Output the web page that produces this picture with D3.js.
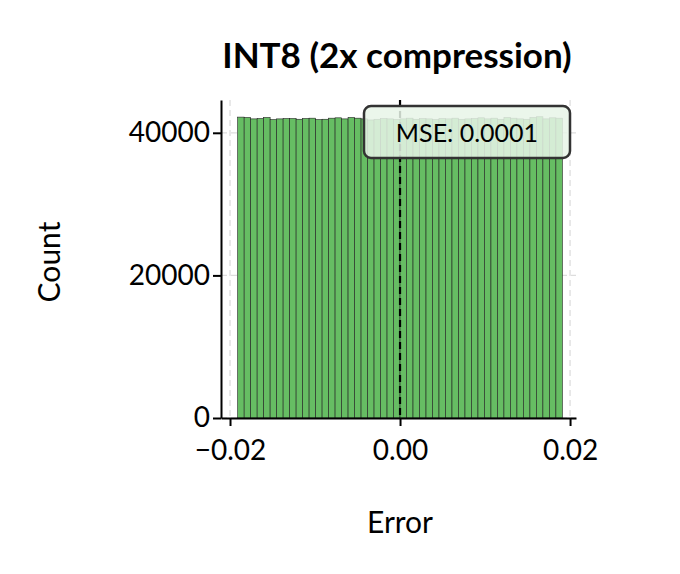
<!DOCTYPE html>
<html><head><meta charset="utf-8">
<script src="https://cdn.jsdelivr.net/npm/d3@7"></script>
<style>body{margin:0;background:#fff}text{font-family:Lato,"Noto Sans",sans-serif}</style>
</head><body><div id="chart"></div>
<script>
// histogram of quantization error, 50 bins
var binLo = -0.0191, binHi = 0.0191;
var counts = [42200,42150,41950,42000,42150,41850,41950,42000,42000,41900,
  42000,42050,41850,41900,42050,42100,41950,42150,42050,41950,
  41800,41900,42000,41950,41850,41950,42050,41900,42000,41950,
  41850,42000,41950,42050,41900,41950,42000,42100,41950,42050,
  41900,42150,42050,41950,41900,42150,42250,41950,42100,42050];
var xTicks = [-0.02, 0.00, 0.02];
var yTicks = [0, 20000, 40000];
var mse = "MSE: 0.0001";

const width = 680, height = 574;
const margin = { top: 100, right: 104, bottom: 156, left: 221 };

var x = d3.scaleLinear().domain([-0.02106, 0.0207]).range([margin.left, width - margin.right]);
var y = d3.scaleLinear().domain([0, 44600]).range([height - margin.bottom, margin.top]);

const svg = d3.select("#chart").append("svg").attr("width", width).attr("height", height);

var step = (binHi - binLo) / counts.length;
var bins = counts.map((c, i) => ({ x0: binLo + i * step, x1: binLo + (i + 1) * step, n: c }));

// grid
svg.append("g").selectAll("line").data(xTicks).join("line")
  .attr("x1", d => x(d)).attr("x2", d => x(d))
  .attr("y1", margin.top).attr("y2", height - margin.bottom)
  .attr("stroke", "#ddd").attr("stroke-dasharray", "6,4").attr("stroke-width", 1.3);
svg.append("g").selectAll("line").data(yTicks).join("line")
  .attr("x1", margin.left).attr("x2", width - margin.right)
  .attr("y1", d => y(d)).attr("y2", d => y(d))
  .attr("stroke", "#ddd").attr("stroke-dasharray", "6,4").attr("stroke-width", 1.3);

// bars
svg.append("g").selectAll("rect").data(bins).join("rect")
  .attr("x", d => x(d.x0)).attr("width", d => x(d.x1) - x(d.x0))
  .attr("y", d => y(d.n)).attr("height", d => y(0) - y(d.n))
  .attr("fill", "#66bd63").attr("stroke", "#222").attr("stroke-width", 0.6);

// zero line
svg.append("line").attr("x1", x(0)).attr("x2", x(0))
  .attr("y1", margin.top).attr("y2", height - margin.bottom)
  .attr("stroke", "#000").attr("stroke-width", 2.2).attr("stroke-dasharray", "7,4");

// axes
function xAxis(g) {
  g.attr("transform", `translate(0, ${height - margin.bottom})`)
    .attr("class", "xax")
    .call(d3.axisBottom(x).tickValues(xTicks).tickFormat(d => d3.format(".2f")(d).replace("-", "\u2212")).tickSize(8).tickSizeOuter(0));
}
function yAxis(g) {
  g.attr("transform", `translate(${margin.left}, 0)`)
    .call(d3.axisLeft(y).tickValues(yTicks).tickFormat(d => d).tickSize(8).tickSizeOuter(0));
}
svg.append("g").call(xAxis);
svg.append("g").call(yAxis);
svg.selectAll(".domain, .tick line").attr("stroke", "#000").attr("stroke-width", 2);
svg.selectAll(".tick text").attr("font-size", 28).attr("fill", "#000");
svg.select(".xax").selectAll(".tick text").attr("y", 14).attr("dy", "1em");

// legend box
var bx = 364, by = 106, bw = 206, bh = 52;
svg.append("rect").attr("x", bx).attr("y", by).attr("width", bw).attr("height", bh)
  .attr("rx", 7).attr("fill", "rgba(232,245,232,0.85)").attr("stroke", "#333").attr("stroke-width", 2.5);
svg.append("text").attr("x", bx + bw / 2).attr("y", by + 36).attr("text-anchor", "middle")
  .attr("font-size", 25).text(mse);

// labels
svg.append("text").attr("x", x(0)).attr("y", 533).attr("text-anchor", "middle").attr("font-size", 30).text("Error");
svg.append("text").attr("transform", "translate(60,262) rotate(-90)").attr("text-anchor", "middle").attr("font-size", 30).text("Count");
svg.append("text").attr("x", 397).attr("y", 68).attr("text-anchor", "middle").attr("font-size", 35).attr("font-weight", "bold").text("INT8 (2x compression)");
</script></body></html>
